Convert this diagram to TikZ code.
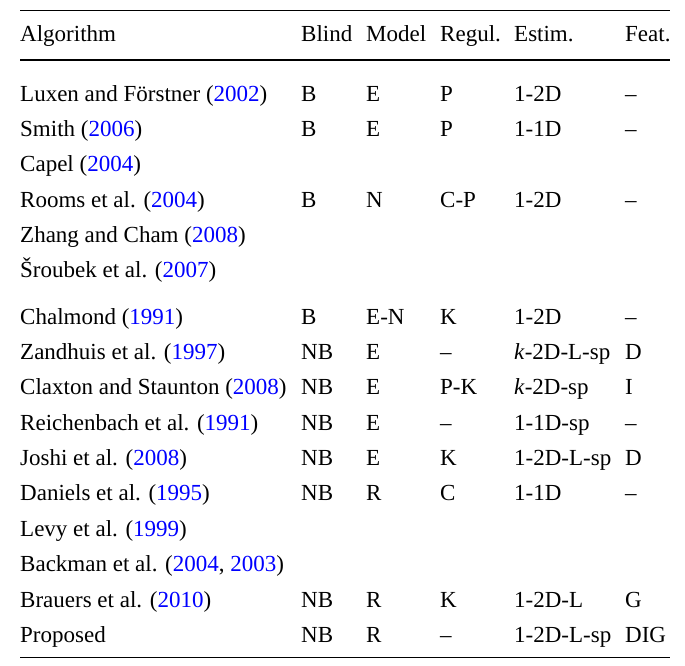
\documentclass[tikz,border=0pt]{standalone}
\usepackage{fontspec}
\setmainfont{Liberation Serif}
\definecolor{cite}{RGB}{0,0,255}
\newcommand{\cy}[1]{\textcolor{cite}{#1}}
\begin{document}
\begin{tikzpicture}[x=1pt,y=-1pt,
  cell/.style={anchor=base west,inner sep=0pt,font=\fontsize{23}{27}\selectfont},
  rulethick/.style={line width=1.6pt},
  rulethin/.style={line width=0.8pt}]
\useasboundingbox (0,0) rectangle (685,665);
\draw[rulethin] (20,10) -- (670,10);
\draw[rulethick] (20,60) -- (670,60);
\draw[rulethin] (20,657) -- (670,657);
\def\xa{20}\def\xb{301}\def\xc{366}\def\xd{440}\def\xe{514}\def\xf{625}
\node[cell] (h1) at (\xa,41) {Algorithm};
\node[cell] (h2) at (\xb,41) {Blind};
\node[cell] (h3) at (\xc,41) {Model};
\node[cell] (h4) at (\xd,41) {Regul.};
\node[cell] (h5) at (\xe,41) {Estim.};
\node[cell] (h6) at (\xf,41) {Feat.};
\newcommand{\trow}[7]{%
 \node[cell] (a#1) at (\xa,#2) {#3};
 \node[cell] (b#1) at (\xb,#2) {#4};
 \node[cell] (c#1) at (\xc,#2) {#5};
 \node[cell] (d#1) at (\xd,#2) {#6};
 \node[cell] (e#1) at (\xe,#2) {#7};}
\trow{1}{101}{Luxen and Förstner (\cy{2002})}{B}{E}{P}{1-2D}
\node[cell] (f1) at (\xf,101) {–};
\trow{2}{136}{Smith (\cy{2006})}{B}{E}{P}{1-1D}
\node[cell] (f2) at (\xf,136) {–};
\node[cell] (a3) at (\xa,171) {Capel (\cy{2004})};
\trow{4}{207}{Rooms et al. (\cy{2004})}{B}{N}{C-P}{1-2D}
\node[cell] (f4) at (\xf,207) {–};
\node[cell] (a5) at (\xa,242) {Zhang and Cham (\cy{2008})};
\node[cell] (a6) at (\xa,277) {Šroubek et al. (\cy{2007})};
\trow{7}{324}{Chalmond (\cy{1991})}{B}{E-N}{K}{1-2D}
\node[cell] (f7) at (\xf,324) {–};
\trow{8}{359}{Zandhuis et al. (\cy{1997})}{NB}{E}{–}{\textit{k}-2D-L-sp}
\node[cell] (f8) at (\xf,359) {D};
\trow{9}{394}{Claxton and Staunton (\cy{2008})}{NB}{E}{P-K}{\textit{k}-2D-sp}
\node[cell] (f9) at (\xf,394) {I};
\trow{10}{430}{Reichenbach et al. (\cy{1991})}{NB}{E}{–}{1-1D-sp}
\node[cell] (f10) at (\xf,430) {–};
\trow{11}{465}{Joshi et al. (\cy{2008})}{NB}{E}{K}{1-2D-L-sp}
\node[cell] (f11) at (\xf,465) {D};
\trow{12}{500}{Daniels et al. (\cy{1995})}{NB}{R}{C}{1-1D}
\node[cell] (f12) at (\xf,500) {–};
\node[cell] (a13) at (\xa,536) {Levy et al. (\cy{1999})};
\node[cell] (a14) at (\xa,571) {Backman et al. (\cy{2004}, \cy{2003})};
\trow{15}{607}{Brauers et al. (\cy{2010})}{NB}{R}{K}{1-2D-L}
\node[cell] (f15) at (\xf,607) {G};
\trow{16}{642}{Proposed}{NB}{R}{–}{1-2D-L-sp}
\node[cell] (f16) at (\xf,642) {DIG};
\end{tikzpicture}
\end{document}
